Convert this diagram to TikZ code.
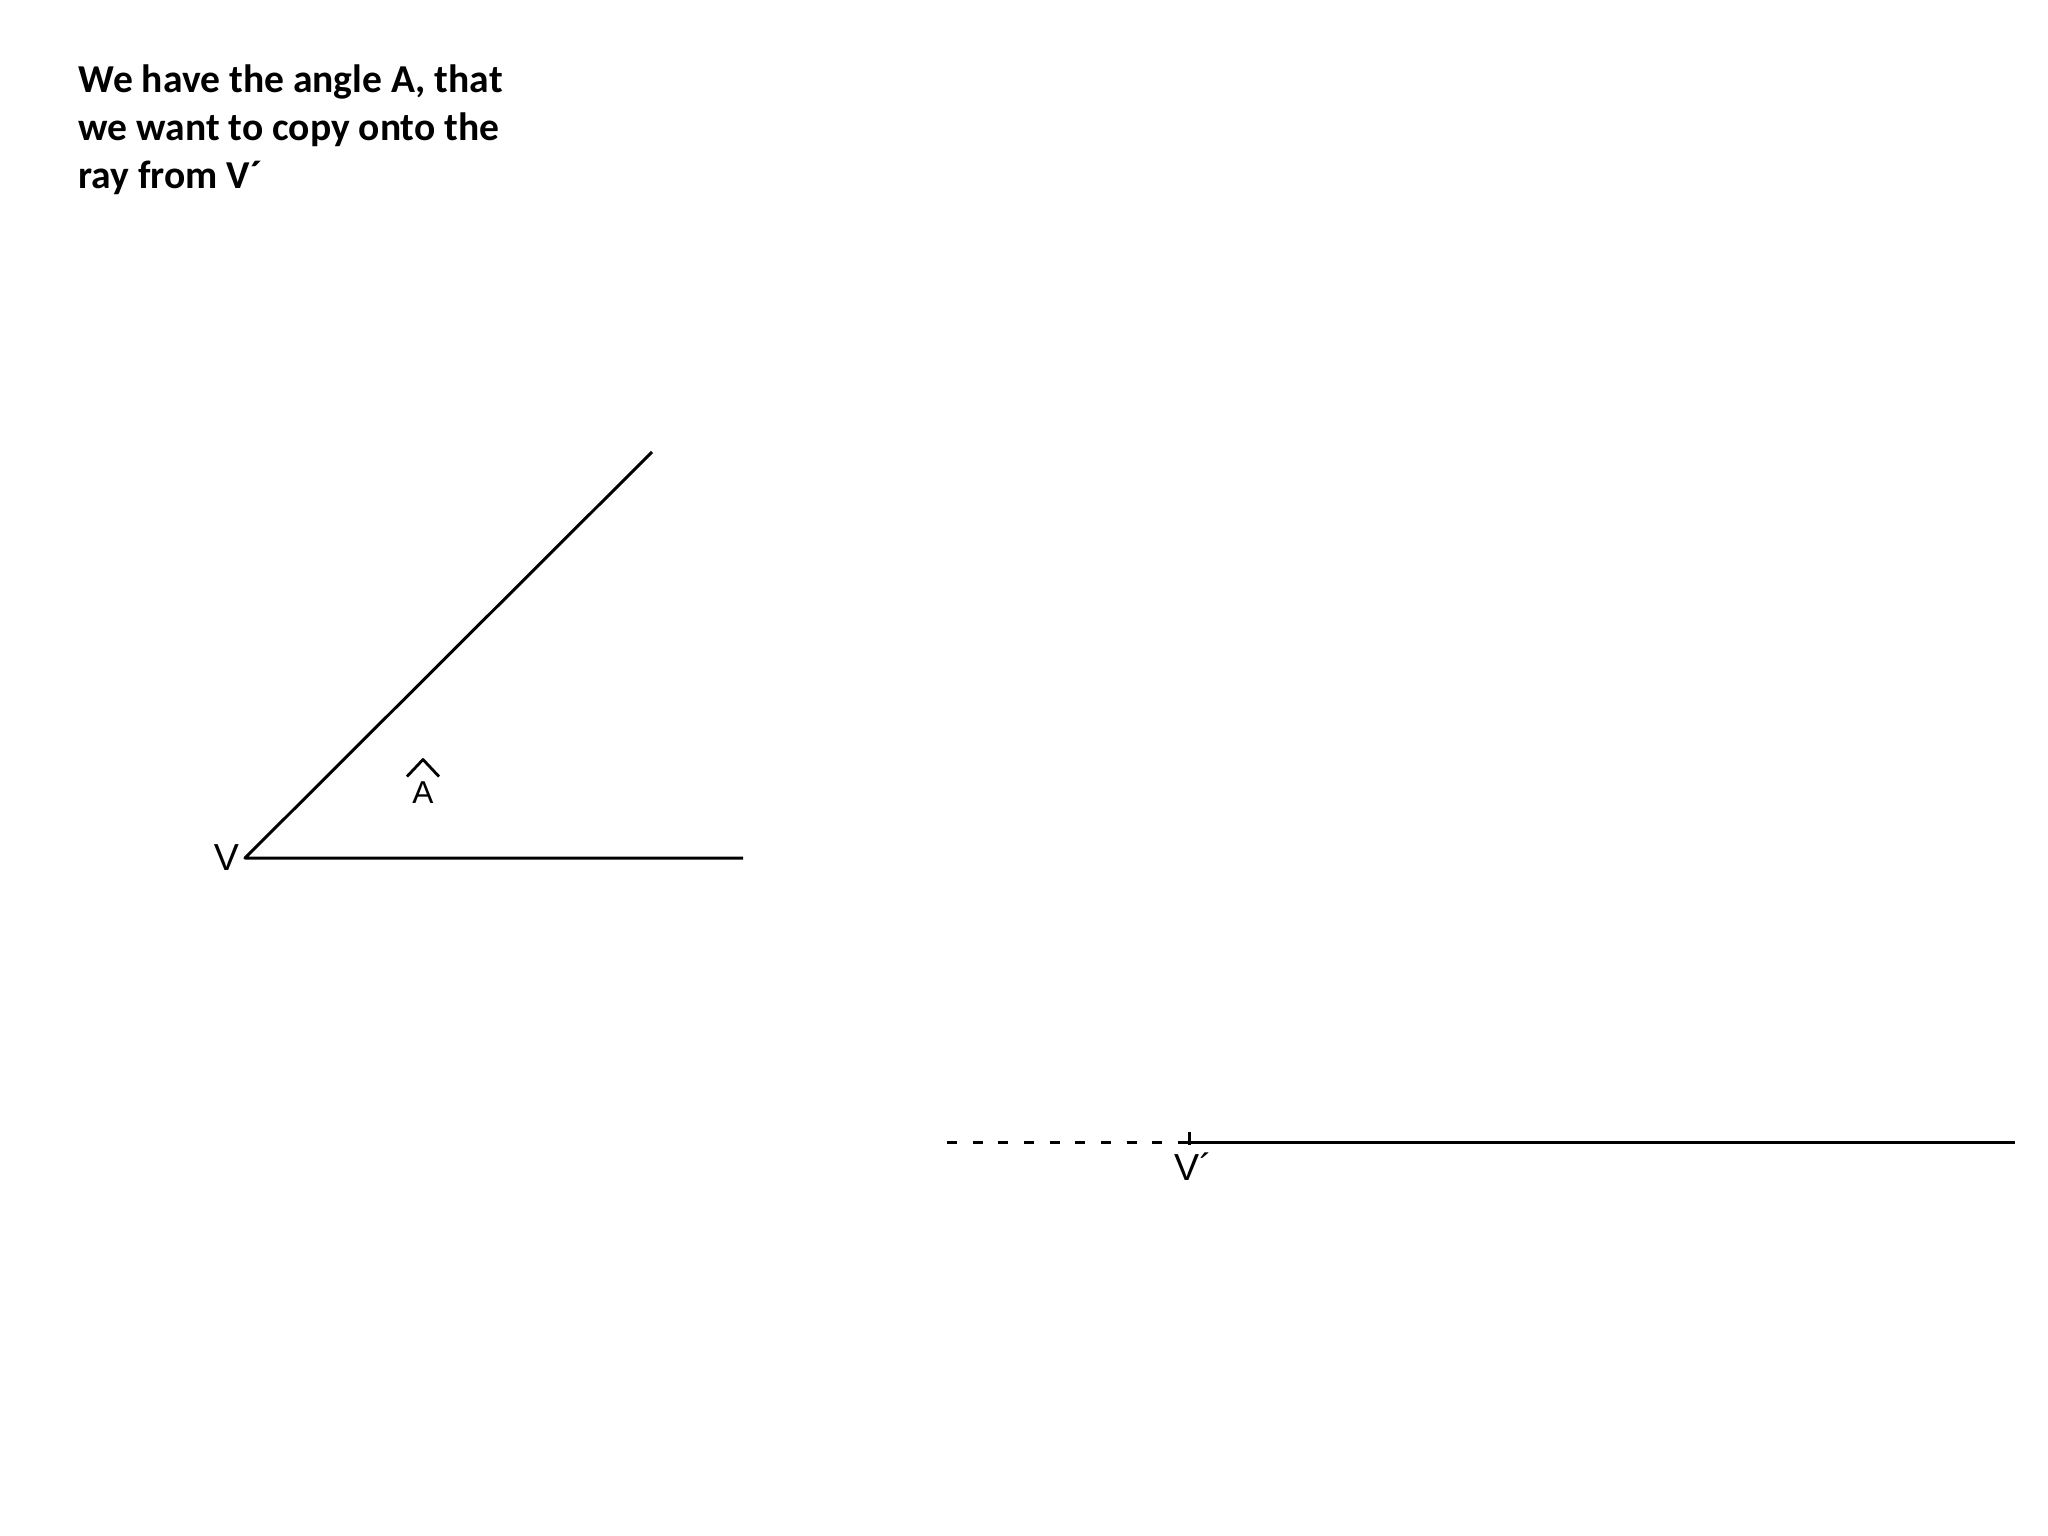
\documentclass[tikz,border=0pt]{standalone}
\usepackage{fontspec}
\setmainfont{Carlito}
\newfontfamily\lblfont{Liberation Sans}
\usetikzlibrary{positioning}
\tikzset{
    %Define style for the text at the top
    note/.style={
           font=\bfseries\fontsize{11.25}{13.6}\selectfont,
           align=left,
           inner sep=0pt,
           anchor=north west},
    %Define style for point labels
    ptlabel/.style={
           font=\lblfont\fontsize{10.7}{12}\selectfont,
           inner sep=0pt},
    % Define line styles
    ray/.style={
           line width=0.85pt,
           line join=round},
    guide/.style={
           line width=0.85pt,
           dash pattern=on 2.8pt off 4.5pt}
}
\begin{document}
\begin{tikzpicture}[x=0.01cm,y=-0.01cm]
\useasboundingbox (0,0) rectangle (2048,1536);
 %text
\node[note] (txt) at (78,64) {We have the angle A, that\\we want to copy onto the\\ray from V´};

 %angle
\coordinate (V) at (245,858);
\coordinate (P) at (652,452);
\coordinate (Q) at (743,858);
\draw[ray] (P) -- (V) -- (Q);
\node[ptlabel, left=1.5pt of V] (vlab) {V};
\node[ptlabel, font=\lblfont\fontsize{9}{10}\selectfont, anchor=base] (alab) at (423,803) {A};
\draw[ray, line width=0.8pt] ([shift={(-16,-4)}]alab.north) -- ([shift={(0,-21)}]alab.north) -- ([shift={(16,-4)}]alab.north);

 %ray from V'
\coordinate (W) at (947,1142);
\coordinate (Vp) at (1189,1142);
\coordinate (E) at (2015,1142);
\draw[guide] (W) -- (Vp);
\draw[ray] (Vp) -- (E);
\draw[ray] ([yshift=0.10cm]Vp) -- ([yshift=-0.03cm]Vp);
\node[ptlabel, below=3pt of Vp, xshift=0.04cm] (vplab) {V´};
\end{tikzpicture}
\end{document}
